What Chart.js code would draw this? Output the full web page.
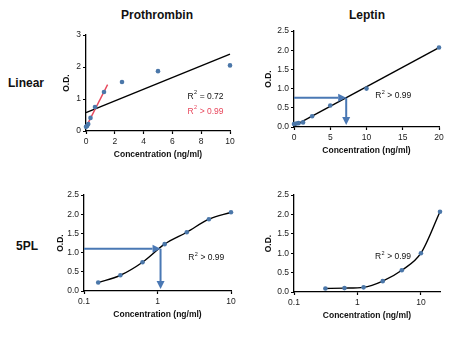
<!DOCTYPE html>
<html lang="en">
<head>
<meta charset="UTF-8">
<title>ELISA standard curves</title>
<script src="https://cdn.jsdelivr.net/npm/chart.js"></script>
<style>
  * { margin: 0; padding: 0; box-sizing: border-box; }
  body {
    width: 474px;
    height: 338px;
    background: #fff;
    position: relative;
    overflow: hidden;
    font-family: Arial, 'Liberation Sans', sans-serif;
  }
  canvas { position: absolute; }
  .label {
    position: absolute;
    font-weight: bold;
    font-size: 12px;
    color: #111;
    white-space: nowrap;
    transform: translate(-50%, -50%);
  }
</style>
</head>
<body>
<div class="label" style="left:157px;top:15px">Prothrombin</div>
<div class="label" style="left:367px;top:15px">Leptin</div>
<div class="label" style="left:26px;top:83px">Linear</div>
<div class="label" style="left:27px;top:246px">5PL</div>

<canvas id="prothLinear"></canvas>
<canvas id="leptinLinear"></canvas>
<canvas id="proth5pl"></canvas>
<canvas id="leptin5pl"></canvas>

<script>
// standards (ng/ml) and measured O.D.
const prothConc = [0, 0.078, 0.156, 0.3125, 0.625, 1.25, 2.5, 5, 10];
const prothOD   = [0.13, 0.16, 0.22, 0.41, 0.75, 1.22, 1.53, 1.87, 2.05];
const leptinConc = [0, 0.3125, 0.625, 1.25, 2.5, 5, 10, 20];
const leptinOD   = [0.08, 0.09, 0.10, 0.12, 0.28, 0.56, 1.00, 2.07];

// linear regression lines (end points)
const prothFitAllX = [0, 10];
const prothFitAllY = [0.575, 2.4];
const prothFitLowX = [0, 1.5];
const prothFitLowY = [0.12, 1.45];
const leptinFitX = [0, 20];
const leptinFitY = [0.03, 2.07];

// sample read-offs (O.D. -> concentration)
const leptinReadOD = 0.76, leptinReadConc = 7.2;
const prothReadOD = 1.1, prothReadConc = 1.1;

// axis ticks
const linYTicks = [0, 1, 2, 3];
const logXTicks = [0.1, 1, 10];

const FONT = "Arial, 'Liberation Sans', sans-serif";
const pointBlue = '#4b77a9';
const arrowBlue = '#4a78b4';
const fitRed = '#e8475c';

const xy = (xs, ys) => xs.map((x, i) => ({ x: x, y: ys[i] }));

function drawArrow(ctx, x1, y1, x2, y2) {
  const ang = Math.atan2(y2 - y1, x2 - x1);
  const len = 8, hw = 4;
  const bx = x2 - len * Math.cos(ang), by = y2 - len * Math.sin(ang);
  ctx.beginPath();
  ctx.moveTo(x1, y1);
  ctx.lineTo(bx, by);
  ctx.stroke();
  ctx.beginPath();
  ctx.moveTo(x2, y2);
  ctx.lineTo(bx + hw * Math.sin(ang), by - hw * Math.cos(ang));
  ctx.lineTo(bx - hw * Math.sin(ang), by + hw * Math.cos(ang));
  ctx.closePath();
  ctx.fill();
}

function drawR2(ctx, px, py, rest, color) {
  ctx.fillStyle = color;
  ctx.textBaseline = 'middle';
  ctx.textAlign = 'left';
  ctx.font = `8.5px ${FONT}`;
  ctx.fillText('R', px, py);
  let w = ctx.measureText('R').width;
  ctx.font = `5.5px ${FONT}`;
  ctx.fillText('2', px + w + 0.3, py - 3.5);
  w += ctx.measureText('2').width + 0.6;
  ctx.font = `8.5px ${FONT}`;
  ctx.fillText(rest, px + w, py);
}

// R² notes and read-off arrows, placed in data units
const extras = {
  id: 'extras',
  afterDatasetsDraw(chart, args, opts) {
    const { ctx } = chart;
    const sx = chart.scales.x, sy = chart.scales.y;
    ctx.save();
    (opts.arrows || []).forEach(a => {
      const px = sx.getPixelForValue(a.conc);
      const py = sy.getPixelForValue(a.od);
      ctx.strokeStyle = arrowBlue;
      ctx.fillStyle = arrowBlue;
      ctx.lineWidth = 2;
      drawArrow(ctx, chart.chartArea.left, py, px, py);
      drawArrow(ctx, px, py, px, chart.chartArea.bottom - 2);
    });
    (opts.notes || []).forEach(n => {
      drawR2(ctx, sx.getPixelForValue(n.x), sy.getPixelForValue(n.y), n.text, n.color);
    });
    ctx.restore();
  }
};

function makeAxis(extra) {
  return Object.assign({
    border: { color: '#000', width: 1.3 },
    grid: { display: true, drawOnChartArea: false, drawTicks: true, tickLength: 3, tickColor: '#000', tickWidth: 1.2 },
    title: { display: true, color: '#111', padding: 0, font: { family: FONT, size: 8.5, weight: 'bold' } }
  }, extra);
}

function panel(id, box, yWidth, setup) {
  const cv = document.getElementById(id);
  const padL = 6, padT = 10, padR = 12, xH = 29;
  const left = box.L - yWidth - padL, top = box.T - padT;
  cv.width = box.R + padR - left;
  cv.height = box.B + xH - top;
  cv.style.left = left + 'px';
  cv.style.top = top + 'px';

  const xAxis = makeAxis({
    type: setup.xType,
    min: setup.xMin,
    max: setup.xMax,
    afterFit: s => { s.height = xH; },
    ticks: {
      color: '#222', padding: 3, autoSkip: false, maxRotation: 0,
      font: { family: FONT, size: 8.5 },
      stepSize: setup.xStep,
      callback: v => String(v)
    }
  });
  xAxis.title.text = 'Concentration (ng/ml)';
  if (setup.xType === 'logarithmic') {
    xAxis.afterBuildTicks = s => { s.ticks = logXTicks.map(v => ({ value: v })); };
  }

  const yAxis = makeAxis({
    min: 0,
    max: setup.yMax,
    afterFit: s => { s.width = yWidth; },
    ticks: {
      color: '#222', padding: 2,
      font: { family: FONT, size: 8.5 },
      stepSize: setup.yStep,
      callback: v => v.toFixed(setup.yDec)
    }
  });
  yAxis.title.text = 'O.D.';

  return new Chart(cv, {
    type: 'scatter',
    data: { datasets: setup.datasets },
    options: {
      responsive: false,
      animation: false,
      layout: { padding: { left: padL, top: padT, right: padR, bottom: 0 } },
      scales: { x: xAxis, y: yAxis },
      plugins: {
        legend: { display: false },
        tooltip: { enabled: false },
        extras: { arrows: setup.arrows, notes: setup.notes }
      }
    },
    plugins: [extras]
  });
}

const dots = data => ({
  data: data, pointRadius: 2.3, pointBackgroundColor: pointBlue,
  pointBorderWidth: 0, showLine: false, clip: false
});
const fitLine = (data, color) => ({
  data: data, showLine: true, pointRadius: 0, borderColor: color,
  borderWidth: 1.4, clip: false
});
const fitCurve = data => ({
  data: data, showLine: true, cubicInterpolationMode: 'monotone',
  borderColor: '#000', borderWidth: 1.4,
  pointRadius: 2.3, pointBackgroundColor: pointBlue, pointBorderWidth: 0, clip: false
});

// Prothrombin, linear fit
panel('prothLinear', { L: 86, T: 35, R: 230, B: 131 }, 24, {
  xType: 'linear', xMin: 0, xMax: 10, xStep: 2,
  yMax: 3, yStep: 1, yDec: 0,
  datasets: [
    dots(xy(prothConc, prothOD)),
    fitLine(xy(prothFitLowX, prothFitLowY), fitRed),
    fitLine(xy(prothFitAllX, prothFitAllY), '#000')
  ],
  notes: [
    { x: 7.05, y: 1.08, text: ' = 0.72', color: '#111' },
    { x: 7.05, y: 0.62, text: ' > 0.99', color: fitRed }
  ]
});

// Leptin, linear fit
panel('leptinLinear', { L: 294, T: 31, R: 439, B: 127 }, 30, {
  xType: 'linear', xMin: 0, xMax: 20, xStep: 5,
  yMax: 2.5, yStep: 0.5, yDec: 1,
  datasets: [
    dots(xy(leptinConc, leptinOD)),
    fitLine(xy(leptinFitX, leptinFitY), '#000')
  ],
  arrows: [{ conc: leptinReadConc, od: leptinReadOD }],
  notes: [{ x: 11.2, y: 0.81, text: ' > 0.99', color: '#111' }]
});

// Prothrombin, 5PL fit on log concentration
panel('proth5pl', { L: 84, T: 195, R: 231, B: 291 }, 28, {
  xType: 'logarithmic', xMin: 0.1, xMax: 10,
  yMax: 2.5, yStep: 0.5, yDec: 1,
  datasets: [fitCurve(xy(prothConc.slice(2), prothOD.slice(2)))],
  arrows: [{ conc: prothReadConc, od: prothReadOD }],
  notes: [{ x: 2.62, y: 0.87, text: ' > 0.99', color: '#111' }]
});

// Leptin, 5PL fit on log concentration
panel('leptin5pl', { L: 294, T: 195, R: 440, B: 292 }, 30, {
  xType: 'logarithmic', xMin: 0.1, xMax: 20,
  yMax: 2.5, yStep: 0.5, yDec: 1,
  datasets: [fitCurve(xy(leptinConc.slice(1), leptinOD.slice(1)))],
  notes: [{ x: 1.89, y: 0.91, text: ' > 0.99', color: '#111' }]
});
</script>
</body>
</html>
